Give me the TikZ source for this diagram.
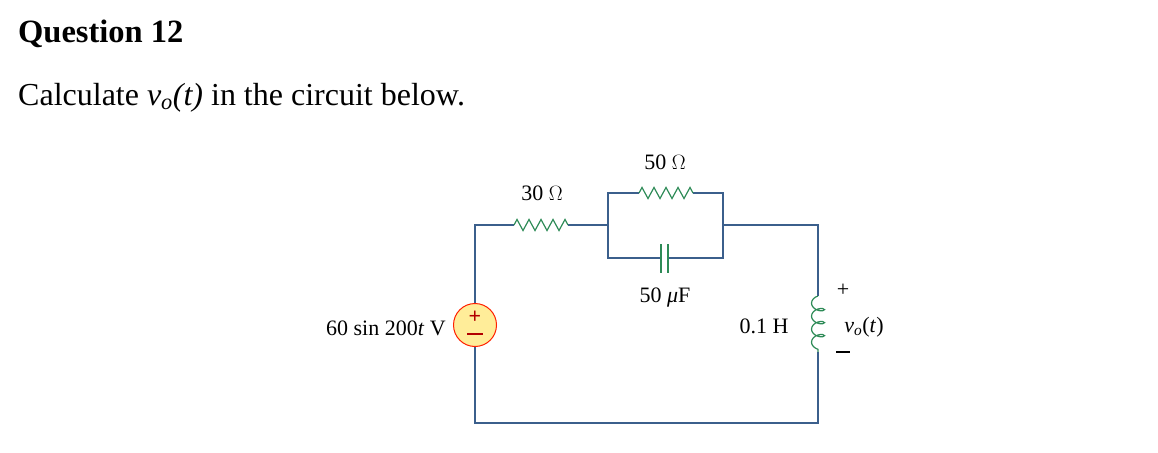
\documentclass[tikz,border=0pt]{standalone}
\usepackage{fontspec}
\setmainfont{Liberation Serif}
\usetikzlibrary{decorations.pathmorphing}
\definecolor{wire}{HTML}{3B5F8C}
\definecolor{comp}{HTML}{2E8B57}
\begin{document}
\begin{tikzpicture}[x=1pt,y=-1pt,
  wirest/.style={draw=wire,line width=1.3pt},
  resst/.style={draw=comp,line width=1.2pt,decorate,decoration={zigzag,segment length=12,amplitude=5.5}},
  coilst/.style={draw=comp,line width=1.2pt,decorate,decoration={coil,aspect=0.6,segment length=13,amplitude=6.5,mirror}},
  lab/.style={font=\fontsize{22}{24}\selectfont,inner sep=0pt}]
\useasboundingbox (0,0) rectangle (1158,452);
\node[anchor=west,font=\fontsize{32.5}{36}\selectfont\bfseries,inner sep=0pt] (title) at (18,34) {Question 12};
\node[anchor=west,font=\fontsize{32}{36}\selectfont,inner sep=0pt] (q) at (18,98) {Calculate \textit{v\textsubscript{o}(t)} in the circuit below.};
% coordinates
\coordinate (tl) at (475,225);
\coordinate (bl) at (475,423);
\coordinate (br) at (818,423);
\coordinate (tr) at (818,225);
\coordinate (r1a) at (514,225);
\coordinate (r1b) at (568,225);
\coordinate (pl) at (608,225);
\coordinate (pr) at (723,225);
\coordinate (plt) at (608,193);
\coordinate (prt) at (723,193);
\coordinate (plb) at (608,258);
\coordinate (prb) at (723,258);
\coordinate (r2a) at (639,193);
\coordinate (r2b) at (693,193);
\coordinate (c1) at (661,258);
\coordinate (c2) at (668,258);
\coordinate (la) at (818,296);
\coordinate (lb) at (818,352);
\node[circle,draw=red!75!orange,fill=orange!35!yellow!40,line width=1pt,minimum size=43pt,inner sep=0pt] (src) at (475,325) {};
\node[text=red!70!black,font=\fontsize{22}{22}\selectfont\bfseries] at (475,317) {+};
\draw[red!70!black,line width=2.2pt] (467,334) -- (483,334);
% wires
\path[wirest] (src.north) -- (tl) -- (r1a);
\path[wirest] (r1b) -- (pl) -- (plt) -- (r2a);
\path[wirest] (r2b) -- (prt) -- (prb) -- (c2);
\path[wirest] (pl) -- (plb) -- (c1);
\path[wirest] (pr) -- (tr) -- (la);
\path[wirest] (lb) -- (br) -- (bl) -- (src.south);
% components
\path[resst] (r1a) -- (r1b);
\path[resst] (r2a) -- (r2b);
\draw[comp,line width=1.2pt] (661,244) -- (661,273) (668,244) -- (668,273);
\path[coilst] (la) -- (lb);
% labels
\node[lab] (l30) at (542,193) {30 $\Omega$};
\node[lab] (l50) at (665,162) {50 $\Omega$};
\node[lab] (lc) at (665,298) {50 \textit{μ}F};
\node[lab] (lh) at (764,326) {0.1 H};
\node[lab] (lv) at (864,327) {\textit{v\textsubscript{o}}(\textit{t})};
\node[lab] (lp) at (843,290) {+};
\draw[black,line width=1.2pt] (836,352) -- (850,352);
\node[lab,anchor=east] (ls) at (446,328) {60 sin 200\textit{t} V};
\end{tikzpicture}
\end{document}
